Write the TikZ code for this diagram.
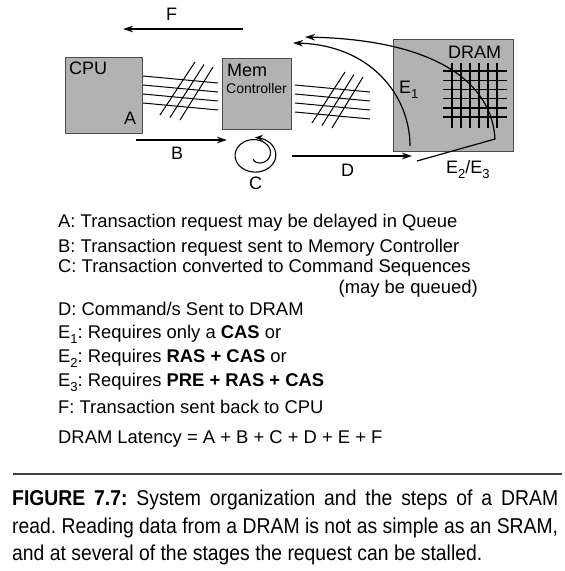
\documentclass[tikz,border=0pt]{standalone}
\usepackage{fontspec}
\setmainfont{Liberation Sans}
\newfontfamily\capfont[FakeStretch=0.9]{Liberation Sans}
\usetikzlibrary{arrows.meta, positioning}
\tikzstyle{unit} = [
    rectangle, draw=black!70, line width=1.3pt, fill=black!30,
    inner sep=0pt, anchor=north west
]
\tikzstyle{bus} = [line width=1pt]
\tikzstyle{cell} = [line width=1.4pt]
\tikzstyle{arrow} = [line width=1.2pt, -{Stealth[length=10pt,width=6.5pt]}]
\tikzstyle{lbl} = [font=\fontsize{18}{21}\selectfont, inner sep=0pt, anchor=base west]
\tikzstyle{legend} = [font=\fontsize{18.4}{21}\selectfont, inner sep=0pt, anchor=base west]
\newcommand{\lowidx}[1]{\raisebox{-0.3em}{\fontsize{13}{13}\selectfont #1}}

\begin{document}
\frenchspacing
\begin{tikzpicture}[x=1pt, y=-1pt]
\useasboundingbox (0,0) rectangle (565,571);

% Blocks
\node (cpu)  [unit, minimum width=77pt,  minimum height=76pt]  at (65,57)  {};
\node (mem)  [unit, minimum width=69pt,  minimum height=71pt]  at (222,58) {};
\node (dram) [unit, minimum width=120pt, minimum height=112pt] at (393,39) {};

\node (cpulbl)  [lbl] at (69,74)  {CPU};
\node (alabel)  [lbl] at (124,124) {A};
\node (memlbl)  [lbl] at (227,76) {Mem};
\node (ctllbl)  [lbl, font=\fontsize{14}{16}\selectfont] at (226,93) {Controller};
\node (dramlbl) [lbl] at (448,58) {DRAM};

% Buses
\foreach \i in {0,...,3}
    \draw [bus] (143,76+9*\i) -- (218,83+9*\i);
\foreach \i in {0,...,2}
    \draw [bus] (160+10*\i,115+2.5*\i) -- (195+9*\i,62+2.5*\i);
\foreach \i in {0,...,3}
    \draw [bus] (295,85+9*\i) -- (370,92+9*\i);
\foreach \i in {0,...,2}
    \draw [bus] (312+10*\i,123+2.5*\i) -- (345+9*\i,72+2.5*\i);

% DRAM array
\foreach \i in {0,...,5} {
    \draw [cell] (452+9*\i,63) -- (452+9*\i,128);
    \draw [cell] (443,71+9.2*\i) -- (507,71+9.2*\i);
}

% Steps
\coordinate (fstart) at (243,29);
\coordinate (fend)   at (123,29);
\draw [arrow] (fstart) -- (fend);
\node (flabel) [lbl] at (166,20) {F};

\coordinate (bstart) at (136,140);
\coordinate (bend)   at (227,140);
\draw [arrow] (bstart) -- (bend);
\node (blabel) [lbl] at (171,159) {B};

\draw [arrow, line width=1.1pt, -{Stealth[length=8pt,width=6pt]}]
    plot [domain=-110:450, samples=120, smooth]
    ({255+1.2*17.5*(1-0.75*exp(-(\x+110)/110))*cos(\x)},
     {155-17.5*(1-0.75*exp(-(\x+110)/110))*sin(\x)});
\node (clabel) [lbl] at (249,189) {C};

\coordinate (dstart) at (292,156);
\coordinate (dend)   at (412,156);
\draw [arrow] (dstart) -- (dend);
\node (dlabel) [lbl] at (341,176) {D};

\coordinate (e1start) at (410,146);
\coordinate (e1end)   at (293,43);
\draw [arrow] (e1start) .. controls (410,95) and (370,45) .. (e1end);
\node (e1label) [lbl] at (399,93) {E\lowidx{1}};

\coordinate (e2start) at (417,161);
\coordinate (e2turn)  at (495,139);
\coordinate (e2end)   at (305,37);
\draw [arrow] (e2start) -- (e2turn) .. controls (492,85) and (440,40) .. (e2end);
\node (e2label) [lbl] at (446,173) {E\lowidx{2}/E\lowidx{3}};

% Legend
\node (legA) [legend] at (58,227) {A: Transaction request may be delayed in Queue};
\node (legB) [legend] at (58,252) {B: Transaction request sent to Memory Controller};
\node (legC) [legend] at (58,272) {C: Transaction converted to Command Sequences};
\node (legQ) [legend, anchor=base east] at (478,293) {(may be queued)};
\node (legD) [legend] at (58,315) {D: Command/s Sent to DRAM};
\node (legE1) [legend] at (58,338) {E\lowidx{1}: Requires only a \textbf{CAS} or};
\node (legE2) [legend] at (58,362) {E\lowidx{2}: Requires \textbf{RAS + CAS} or};
\node (legE3) [legend] at (58,386) {E\lowidx{3}: Requires \textbf{PRE + RAS + CAS}};
\node (legF) [legend] at (58,413) {F: Transaction sent back to CPU};
\node (legL) [legend] at (58,443) {DRAM Latency = A + B + C + D + E + F};

% Caption
\draw [line width=1.3pt, black!75] (13,474) -- (562,474);
\node (caption) [anchor=north west, text width=546pt, inner sep=0pt, align=justify,
    font=\capfont\fontsize{21.5}{27.5}\selectfont] at (12,490)
    {\textbf{FIGURE 7.7:} System organization and the steps of a DRAM\linebreak
     read. Reading data from a DRAM is not as simple as an SRAM,\linebreak
     and at several of the stages the request can be stalled.};

\end{tikzpicture}
\end{document}
